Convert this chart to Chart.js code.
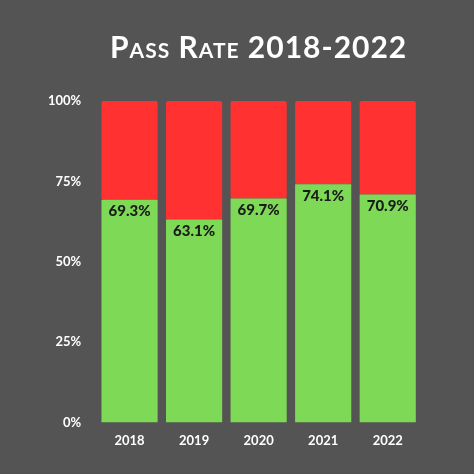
<!DOCTYPE html>
<html>
<head>
<meta charset="utf-8">
<script src="https://cdn.jsdelivr.net/npm/chart.js@4"></script>
<style>
  html, body { margin: 0; padding: 0; background: #545454; }
  #wrap { width: 474px; height: 474px; }
</style>
</head>
<body>
<div id="wrap"><canvas id="chart"></canvas></div>
<script>
// Datos del gráfico
const years = ['2018', '2019', '2020', '2021', '2022'];
const passRate = [69.3, 63.1, 69.7, 74.1, 70.9];
const failRate = [30.7, 36.9, 30.3, 25.9, 29.1];
const yTicks = [0, 25, 50, 75, 100];
const titleText = 'Pass Rate 2018-2022';

// Plugin para escribir el porcentaje encima de cada barra verde
const passLabels = {
    id: 'passLabels',
    afterDatasetsDraw(chart) {
        const ctx = chart.ctx;
        const meta = chart.getDatasetMeta(0);
        ctx.save();
        ctx.fillStyle = '#1b1b1b';
        ctx.font = '900 15px Lato';
        ctx.textAlign = 'center';
        ctx.textBaseline = 'top';
        meta.data.forEach(function (bar, i) {
            ctx.fillText(passRate[i].toFixed(1) + '%', bar.x, bar.y + 4);
        });
        ctx.restore();
    }
};

// Plugin para el título en versalitas
const smallCapsTitle = {
    id: 'smallCapsTitle',
    afterDraw(chart) {
        const ctx = chart.ctx;
        const area = chart.chartArea;
        ctx.save();
        ctx.fillStyle = '#ffffff';
        ctx.font = 'bold 30px Lato';
        ctx.fontVariantCaps = 'small-caps';
        ctx.letterSpacing = '1px';
        ctx.textAlign = 'center';
        ctx.textBaseline = 'middle';
        ctx.fillText(titleText, (area.left + area.right) / 2, 48);
        ctx.restore();
    }
};

new Chart(document.getElementById('chart'), {
    type: 'bar',
    data: {
        labels: years,
        datasets: [{
            label: 'Pass',
            data: passRate,
            backgroundColor: '#7ed957',
            borderWidth: 0,
            borderRadius: 2,
            borderSkipped: false
        }, {
            label: 'Fail',
            data: failRate,
            backgroundColor: '#ff3131',
            borderWidth: 0,
            borderRadius: 2,
            borderSkipped: false
        }]
    },
    options: {
        responsive: true,
        maintainAspectRatio: false,
        animation: false,
        datasets: { bar: { categoryPercentage: 1, barPercentage: 0.87 } },
        layout: { padding: { left: 40, right: 54, top: 101, bottom: 22 } },
        plugins: {
            legend: { display: false },
            tooltip: { enabled: false },
            title: { display: false }
        },
        scales: {
            x: {
                stacked: true,
                grid: { display: false },
                border: { display: false },
                ticks: { color: '#ffffff', font: { family: 'Lato', size: 13, weight: 'bold' } }
            },
            y: {
                stacked: true,
                min: 0,
                max: 100,
                grid: { display: false },
                border: { display: false },
                afterBuildTicks(axis) { axis.ticks = yTicks.map(v => ({ value: v })); },
                ticks: {
                    color: '#ffffff',
                    padding: 8,
                    font: { family: 'Lato', size: 13, weight: 'bold' },
                    callback: v => v + '%'
                }
            }
        }
    },
    plugins: [passLabels, smallCapsTitle]
});
</script>
</body>
</html>
